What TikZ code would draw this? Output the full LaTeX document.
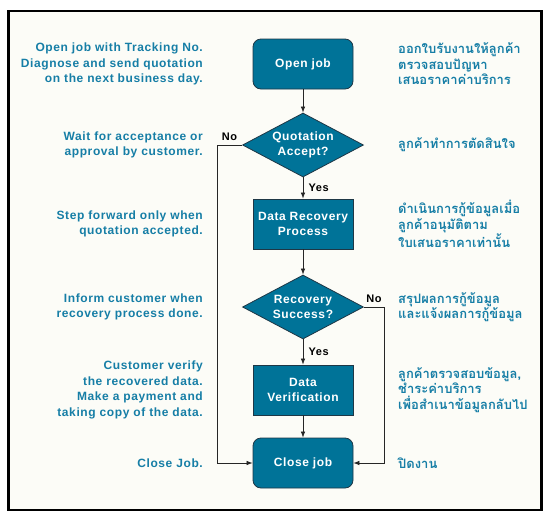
\documentclass[tikz,border=0pt]{standalone}
\usepackage{fontspec}
\setmainfont{Liberation Sans}[LetterSpace=5]
\newfontfamily\thaifont[Script=Thai]{Loma}
\usetikzlibrary{positioning,shapes.geometric,arrows.meta}
\definecolor{flowblue}{RGB}{0,115,152}
\definecolor{notecol}{RGB}{22,126,166}
\definecolor{edgecol}{RGB}{30,55,70}
\definecolor{paper}{RGB}{252,252,247}

\begin{document}
\begin{tikzpicture}[x=1pt,y=-1pt,
    proc/.style={draw=edgecol, fill=flowblue, text=white, line width=0.8pt, minimum width=100pt, minimum height=50pt, align=center, font=\bfseries\fontsize{12}{15}\selectfont},
    term/.style={proc, rounded corners=8pt},
    decide/.style={proc, diamond, aspect=1.9, inner sep=0pt, minimum width=121pt, minimum height=64pt},
    lnote/.style={anchor=east, align=right, text=notecol, inner sep=0pt, font=\bfseries\fontsize{12}{15.7}\selectfont},
    rnote/.style={anchor=west, align=left, text=notecol, inner sep=0pt, font=\thaifont\bfseries\fontsize{13}{15.5}\selectfont},
    flow/.style={draw=black!85, line width=0.7pt, -{Latex[length=6pt,width=4.5pt]}},
    ans/.style={text=black, font=\bfseries\fontsize{11}{13}\selectfont}]
    \useasboundingbox (0,0) rectangle (550,520);
    \draw[line width=2.5pt, fill=paper] (8.5,11) rectangle (541.5,510);

    \coordinate (lcol) at (203,0);
    \coordinate (rcol) at (398,0);

    \node[term] (open) at (303,64) {Open job};
    \node[decide] (quote) at (303,145) {Quotation\\Accept?};
    \node[proc] (drp) at (303,224) {Data Recovery\\Process};
    \node[decide] (rec) at (303,307) {Recovery\\Success?};
    \node[proc] (ver) at (303,390) {Data\\Verification};
    \node[term] (close) at (303,463) {Close job};

    \draw[flow] (open) -- (quote);
    \draw[flow] (quote) -- node[ans, midway, right=2pt] {Yes} (drp);
    \draw[flow] (drp) -- (rec);
    \draw[flow] (rec) -- node[ans, midway, right=2pt] {Yes} (ver);
    \draw[flow] (ver) -- (close);
    \draw[flow] (quote.west) -- ++(-25,0) node[ans, midway, above=1pt] {No} |- (close.west);
    \draw[flow] (rec.east) -- ++(20,0) node[ans, midway, above=1pt] {No} |- (close.east);

    \node[lnote] (n1) at (lcol |- open) {Open job with Tracking No.\\Diagnose and send quotation\\on the next business day.};
    \node[lnote] (n2) at (lcol |- quote) {Wait for acceptance or\\approval by customer.};
    \node[lnote] (n3) at (lcol |- drp) {Step forward only when\\quotation accepted.};
    \node[lnote] (n4) at (lcol |- rec) {Inform customer when\\recovery process done.};
    \node[lnote] (n5) at (lcol |- ver) {Customer verify\\the recovered data.\\Make a payment and\\taking copy of the data.};
    \node[lnote] (n6) at (lcol |- close) {Close Job.};

    \node[rnote] (t1) at (rcol |- open) {ออกใบรับงานให้ลูกค้า\\ตรวจสอบปัญหา\\เสนอราคาค่าบริการ};
    \node[rnote] (t2) at (rcol |- quote) {ลูกค้าทำการตัดสินใจ};
    \node[rnote] (t3) at (rcol |- drp) {ดำเนินการกู้ข้อมูลเมื่อ\\ลูกค้าอนุมัติตาม\\ใบเสนอราคาเท่านั้น};
    \node[rnote] (t4) at (rcol |- rec) {สรุปผลการกู้ข้อมูล\\และแจ้งผลการกู้ข้อมูล};
    \node[rnote] (t5) at (rcol |- ver) {ลูกค้าตรวจสอบข้อมูล,\\ชำระค่าบริการ\\เพื่อสำเนาข้อมูลกลับไป};
    \node[rnote] (t6) at (rcol |- close) {ปิดงาน};
\end{tikzpicture}
\end{document}
